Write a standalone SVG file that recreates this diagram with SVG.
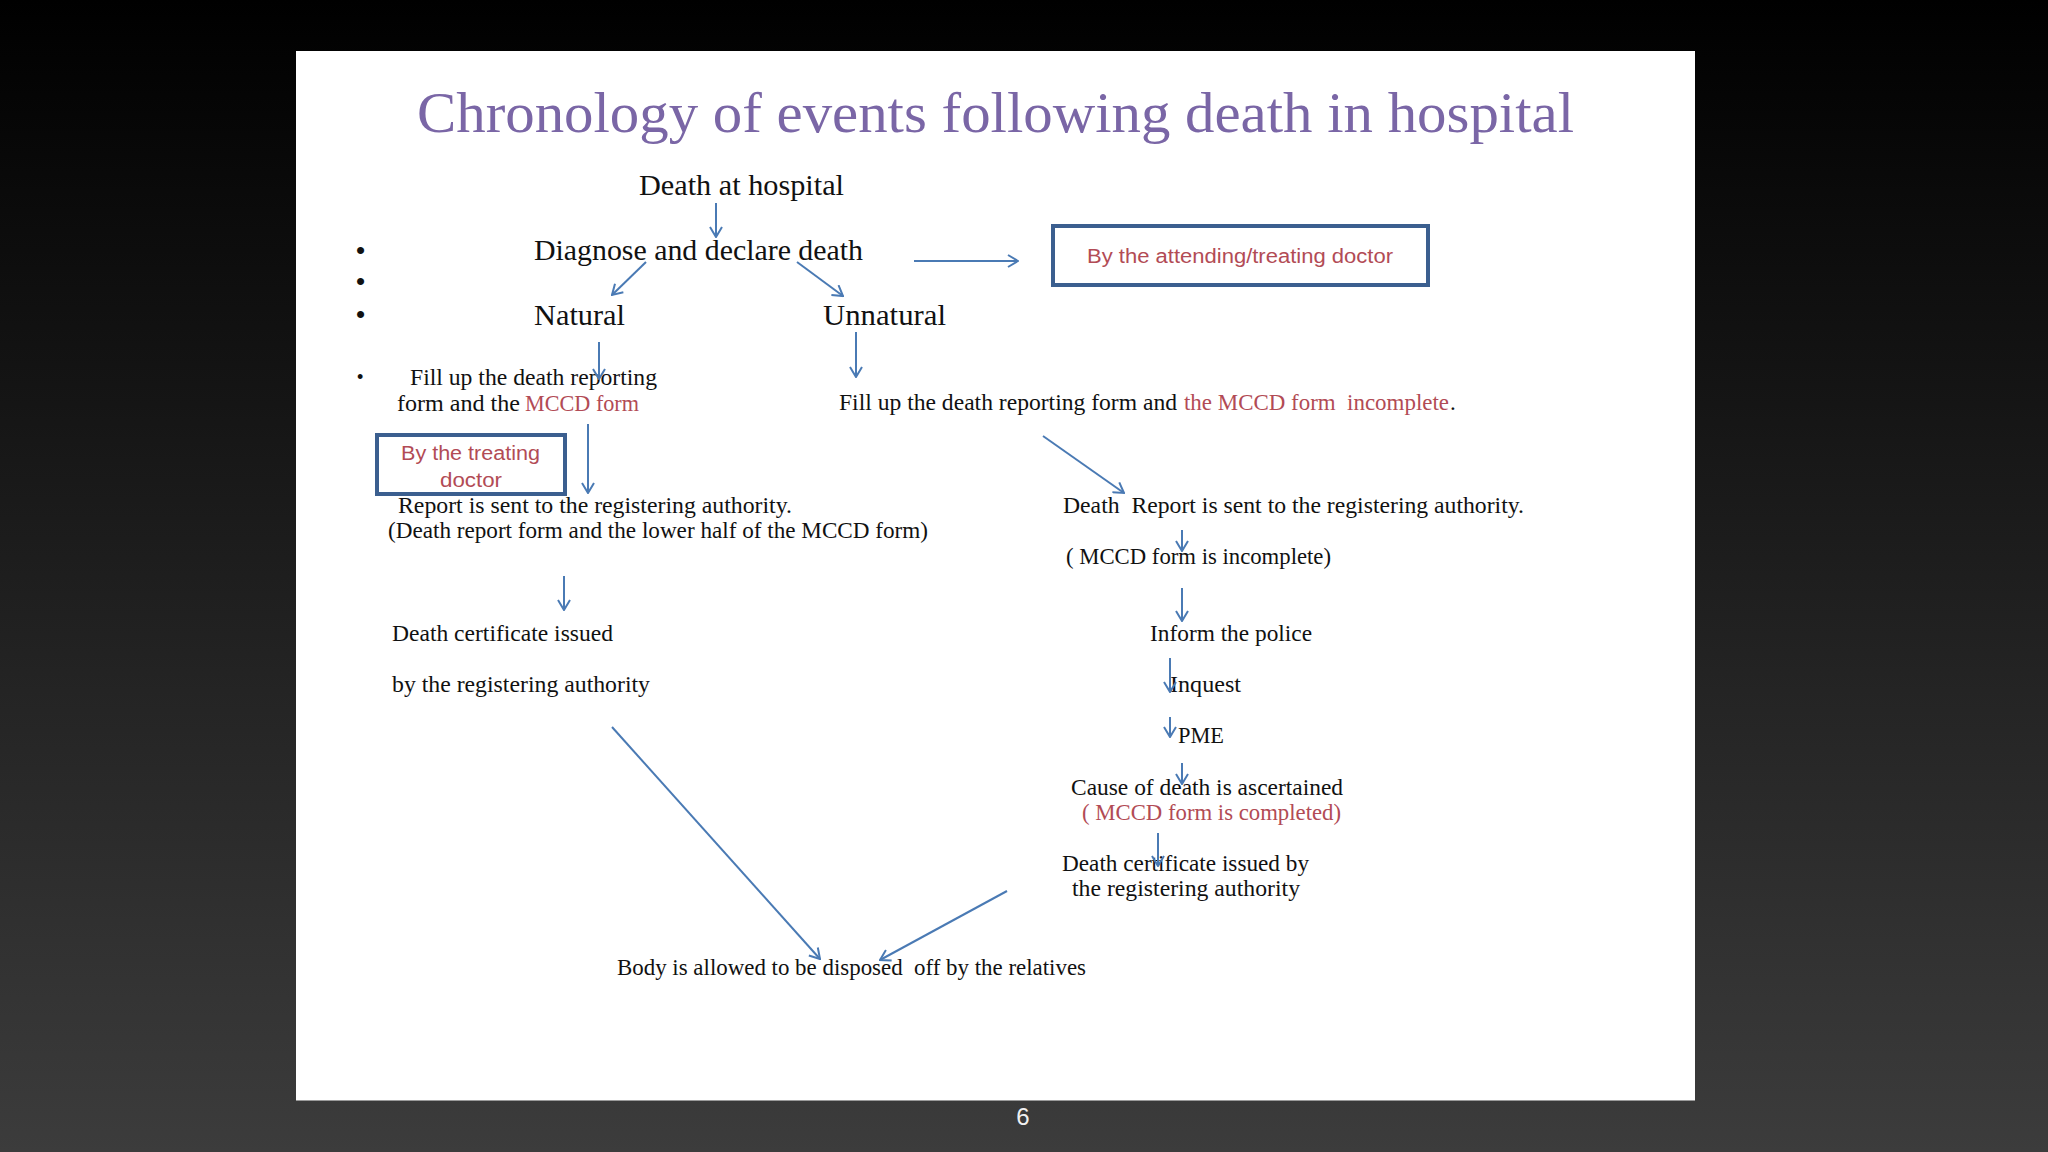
<svg xmlns="http://www.w3.org/2000/svg" width="2048" height="1152" viewBox="0 0 2048 1152">
<defs>
<linearGradient id="bg" x1="0" y1="0" x2="0" y2="1">
<stop offset="0" stop-color="#000000"/>
<stop offset="1" stop-color="#3c3c3c"/>
</linearGradient>
<marker id="ah" viewBox="0 0 12 14" refX="11" refY="7" markerWidth="12" markerHeight="14" markerUnits="userSpaceOnUse" orient="auto">
<path d="M1,1 L11,7 L1,13" fill="none" stroke="#4a7ab4" stroke-width="2"/>
</marker>
<style>
.t{font-family:"Liberation Serif","DejaVu Serif",serif;font-size:23px;fill:#111111}
.big{font-size:30px}
.red{fill:#b24b55}
.title{font-family:"Liberation Serif","DejaVu Serif",serif;font-size:58px;fill:#7a66a6}
.box{fill:#ffffff;stroke:#3b5f8f;stroke-width:4}
.bt{font-family:"Liberation Sans","Open Sans",sans-serif;font-size:20px;fill:#b24b55}
.bul{font-family:"Liberation Sans",sans-serif;fill:#111111}
.c{fill:none;stroke:#4a7ab4;stroke-width:2;marker-end:url(#ah)}
</style>
</defs>
<rect x="0" y="0" width="2048" height="1152" fill="url(#bg)"/>
<rect x="296" y="51" width="1399" height="1049" fill="#ffffff"/>
<line x1="296" y1="1100.5" x2="1695" y2="1100.5" stroke="#9a9a9a" stroke-width="1"/>

<g id="title"><text class="title" x="417" y="132" textLength="1157" lengthAdjust="spacingAndGlyphs">Chronology of events following death in hospital</text></g>

<g id="bullets">
<text class="bul" x="356" y="259" font-size="26">•</text>
<text class="bul" x="356" y="290" font-size="26">•</text>
<text class="bul" x="356" y="323" font-size="26">•</text>
<text class="bul" x="357" y="383" font-size="18">•</text>
</g>

<g id="n-death-hospital"><text class="t big" x="639" y="195" textLength="205" lengthAdjust="spacingAndGlyphs">Death at hospital</text></g>
<g id="n-diagnose"><text class="t big" x="534" y="260" textLength="329" lengthAdjust="spacingAndGlyphs">Diagnose and declare death</text></g>
<g id="n-attending">
<rect class="box" x="1053" y="226" width="375" height="59"/>
<text class="bt" x="1087" y="263" textLength="306" lengthAdjust="spacingAndGlyphs">By the attending/treating doctor</text>
</g>
<g id="n-natural"><text class="t big" x="534" y="325" textLength="91" lengthAdjust="spacingAndGlyphs">Natural</text></g>
<g id="n-unnatural"><text class="t big" x="823" y="325" textLength="123" lengthAdjust="spacingAndGlyphs">Unnatural</text></g>

<g id="n-fill-natural">
<text class="t" x="410" y="385" textLength="247" lengthAdjust="spacingAndGlyphs">Fill up the death reporting</text>
<text class="t" x="397" y="411" textLength="123" lengthAdjust="spacingAndGlyphs">form and the</text>
<text class="t red" x="525" y="411" textLength="114" lengthAdjust="spacingAndGlyphs">MCCD form</text>
</g>
<g id="n-fill-unnatural">
<text class="t" x="839" y="410" textLength="338" lengthAdjust="spacingAndGlyphs">Fill up the death reporting form and</text>
<text class="t red" x="1184" y="410" textLength="265" lengthAdjust="spacingAndGlyphs" xml:space="preserve">the MCCD form  incomplete</text>
<text class="t" x="1450" y="410">.</text>
</g>
<g id="n-treating">
<rect class="box" x="377" y="435" width="188" height="59"/>
<text class="bt" x="401" y="460" textLength="139" lengthAdjust="spacingAndGlyphs">By the treating</text>
<text class="bt" x="440" y="487" textLength="62" lengthAdjust="spacingAndGlyphs">doctor</text>
</g>
<g id="n-report-natural">
<text class="t" x="398" y="513" textLength="394" lengthAdjust="spacingAndGlyphs">Report is sent to the registering authority.</text>
<text class="t" x="388" y="538" textLength="540" lengthAdjust="spacingAndGlyphs">(Death report form and the lower half of the MCCD form)</text>
</g>
<g id="n-cert-natural">
<text class="t" x="392" y="641" textLength="221" lengthAdjust="spacingAndGlyphs">Death certificate issued</text>
<text class="t" x="392" y="692" textLength="258" lengthAdjust="spacingAndGlyphs">by the registering authority</text>
</g>
<g id="n-report-unnatural">
<text class="t" x="1063" y="513" textLength="461" lengthAdjust="spacingAndGlyphs" xml:space="preserve">Death  Report is sent to the registering authority.</text>
</g>
<g id="n-incomplete"><text class="t" x="1066" y="564" textLength="265" lengthAdjust="spacingAndGlyphs">( MCCD form is incomplete)</text></g>
<g id="n-police"><text class="t" x="1150" y="641" textLength="162" lengthAdjust="spacingAndGlyphs">Inform the police</text></g>
<g id="n-inquest"><text class="t" x="1170" y="692" textLength="71" lengthAdjust="spacingAndGlyphs">Inquest</text></g>
<g id="n-pme"><text class="t" x="1178" y="743" textLength="46" lengthAdjust="spacingAndGlyphs">PME</text></g>
<g id="n-cause">
<text class="t" x="1071" y="795" textLength="272" lengthAdjust="spacingAndGlyphs">Cause of death is ascertained</text>
<text class="t red" x="1082" y="820" textLength="259" lengthAdjust="spacingAndGlyphs">( MCCD form is completed)</text>
</g>
<g id="n-cert-unnatural">
<text class="t" x="1062" y="871" textLength="247" lengthAdjust="spacingAndGlyphs">Death certificate issued by</text>
<text class="t" x="1072" y="896" textLength="228" lengthAdjust="spacingAndGlyphs">the registering authority</text>
</g>
<g id="n-body">
<text class="t" x="617" y="975" textLength="469" lengthAdjust="spacingAndGlyphs" xml:space="preserve">Body is allowed to be disposed  off by the relatives</text>
</g>

<g id="connectors">
<line class="c" x1="716" y1="203" x2="716" y2="237"/>
<line class="c" x1="646" y1="262" x2="612" y2="295"/>
<line class="c" x1="797" y1="262" x2="843" y2="296"/>
<line class="c" x1="914" y1="261" x2="1018" y2="261"/>
<line class="c" x1="599" y1="342" x2="599" y2="379"/>
<line class="c" x1="856" y1="332" x2="856" y2="377"/>
<line class="c" x1="588" y1="424" x2="588" y2="493"/>
<line class="c" x1="564" y1="576" x2="564" y2="610"/>
<line class="c" x1="612" y1="727" x2="820" y2="959"/>
<line class="c" x1="1043" y1="436" x2="1124" y2="493"/>
<line class="c" x1="1182" y1="530" x2="1182" y2="551"/>
<line class="c" x1="1182" y1="588" x2="1182" y2="621"/>
<line class="c" x1="1170" y1="658" x2="1170" y2="692"/>
<line class="c" x1="1170" y1="717" x2="1170" y2="737"/>
<line class="c" x1="1182" y1="763" x2="1182" y2="784"/>
<line class="c" x1="1158" y1="833" x2="1158" y2="866"/>
<line class="c" x1="1007" y1="891" x2="880" y2="960"/>
</g>

<g id="page-number"><text x="1023" y="1125" font-family="Liberation Sans, sans-serif" font-size="24" fill="#f0f0f0" text-anchor="middle">6</text></g>
</svg>
